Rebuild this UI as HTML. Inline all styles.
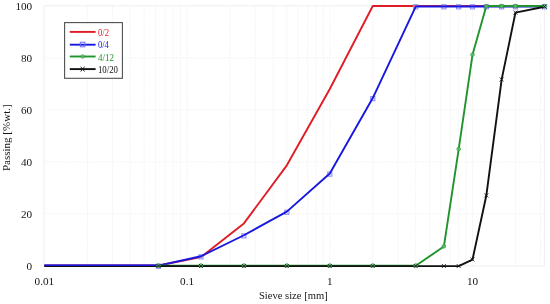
<!DOCTYPE html>
<html><head><meta charset="utf-8"><style>
html,body{margin:0;padding:0;background:#fff;}
body{width:550px;height:304px;position:relative;overflow:hidden;font-family:"Liberation Serif",serif;}
svg text{font-family:"Liberation Serif",serif;}
svg text.ax{stroke:none;}
svg text.tt{stroke:none;}
</style></head><body>
<svg width="550" height="304" viewBox="0 0 550 304" style="position:absolute;left:0;top:0"><path d="M87.36 5.80V266.00M112.49 5.80V266.00M130.31 5.80V266.00M144.14 5.80V266.00M155.44 5.80V266.00M165.00 5.80V266.00M173.27 5.80V266.00M180.57 5.80V266.00M187.10 5.80V266.00M230.06 5.80V266.00M255.19 5.80V266.00M273.01 5.80V266.00M286.84 5.80V266.00M298.14 5.80V266.00M307.70 5.80V266.00M315.97 5.80V266.00M323.27 5.80V266.00M329.80 5.80V266.00M372.76 5.80V266.00M397.89 5.80V266.00M415.71 5.80V266.00M429.54 5.80V266.00M440.84 5.80V266.00M450.40 5.80V266.00M458.67 5.80V266.00M465.97 5.80V266.00M472.50 5.80V266.00M515.46 5.80V266.00M540.59 5.80V266.00M44.10 213.72H544.40M44.10 161.84H544.40M44.10 109.96H544.40M44.10 58.08H544.40" stroke="#f4f4f4" stroke-width="1" stroke-dasharray="2 1" fill="none"/><rect x="44.1" y="5.8" width="500.30" height="260.20" fill="none" stroke="#eeeeee" stroke-width="1"/><polyline points="44.40,265.45 158.47,265.45 200.93,257.15 243.89,223.43 286.84,165.32 329.80,89.06 372.76,6.05 415.71,6.05 443.87,6.05 458.67,6.05 472.50,6.05 486.33,6.05 501.63,6.05 515.46,6.05 544.58,6.05" fill="none" stroke="#df1d25" stroke-width="1.9" stroke-linejoin="round"/><rect x="156.37" y="264.10" width="4.20" height="4.20" fill="#d4d4ff" fill-opacity="0.5" stroke="#8c8cf5" stroke-width="1"/><rect x="198.83" y="254.76" width="4.20" height="4.20" fill="#d4d4ff" fill-opacity="0.5" stroke="#8c8cf5" stroke-width="1"/><rect x="241.79" y="233.75" width="4.20" height="4.20" fill="#d4d4ff" fill-opacity="0.5" stroke="#8c8cf5" stroke-width="1"/><rect x="284.74" y="210.14" width="4.20" height="4.20" fill="#d4d4ff" fill-opacity="0.5" stroke="#8c8cf5" stroke-width="1"/><rect x="327.70" y="172.01" width="4.20" height="4.20" fill="#d4d4ff" fill-opacity="0.5" stroke="#8c8cf5" stroke-width="1"/><rect x="370.66" y="96.53" width="4.20" height="4.20" fill="#d4d4ff" fill-opacity="0.5" stroke="#8c8cf5" stroke-width="1"/><rect x="413.61" y="4.70" width="4.20" height="4.20" fill="#d4d4ff" fill-opacity="0.5" stroke="#8c8cf5" stroke-width="1"/><rect x="441.77" y="4.70" width="4.20" height="4.20" fill="#d4d4ff" fill-opacity="0.5" stroke="#8c8cf5" stroke-width="1"/><rect x="456.57" y="4.70" width="4.20" height="4.20" fill="#d4d4ff" fill-opacity="0.5" stroke="#8c8cf5" stroke-width="1"/><rect x="470.40" y="4.70" width="4.20" height="4.20" fill="#d4d4ff" fill-opacity="0.5" stroke="#8c8cf5" stroke-width="1"/><rect x="484.23" y="4.70" width="4.20" height="4.20" fill="#d4d4ff" fill-opacity="0.5" stroke="#8c8cf5" stroke-width="1"/><rect x="499.53" y="4.70" width="4.20" height="4.20" fill="#d4d4ff" fill-opacity="0.5" stroke="#8c8cf5" stroke-width="1"/><rect x="513.36" y="4.70" width="4.20" height="4.20" fill="#d4d4ff" fill-opacity="0.5" stroke="#8c8cf5" stroke-width="1"/><rect x="542.48" y="4.70" width="4.20" height="4.20" fill="#d4d4ff" fill-opacity="0.5" stroke="#8c8cf5" stroke-width="1"/><polyline points="44.40,265.60 158.47,265.60 200.93,256.26 243.89,235.25 286.84,211.64 329.80,173.51 372.76,98.03 415.71,6.55 443.87,6.55 458.67,6.55 472.50,6.55 486.33,6.55 501.63,6.55 515.46,6.55 544.58,6.55" fill="none" stroke="#1717e0" stroke-width="1.9" stroke-linejoin="round"/><polyline points="158.47,265.75 200.93,265.75 243.89,265.75 286.84,265.75 329.80,265.75 372.76,265.75 415.71,265.75 443.87,246.55 458.67,149.28 472.50,54.86 486.33,5.95 501.63,5.95 515.46,5.95 544.58,5.95" fill="none" stroke="#1f932c" stroke-width="1.9" stroke-linejoin="round"/><polyline points="44.40,266.10 158.47,266.10 200.93,266.10 243.89,266.10 286.84,266.10 329.80,266.10 372.76,266.10 415.71,266.10 443.87,266.10 458.67,266.10 472.50,259.62 486.33,195.54 501.63,79.59 515.46,12.67 544.58,6.70" fill="none" stroke="#111111" stroke-width="1.9" stroke-linejoin="round"/><path d="M44.40 265.30H158.47" stroke="#1717e0" stroke-width="1.6"/><circle cx="158.47" cy="265.50" r="1.8" fill="#7cc886" fill-opacity="0.6" stroke="#33a544" stroke-width="0.9"/><circle cx="200.93" cy="265.50" r="1.8" fill="#7cc886" fill-opacity="0.6" stroke="#33a544" stroke-width="0.9"/><circle cx="243.89" cy="265.50" r="1.8" fill="#7cc886" fill-opacity="0.6" stroke="#33a544" stroke-width="0.9"/><circle cx="286.84" cy="265.50" r="1.8" fill="#7cc886" fill-opacity="0.6" stroke="#33a544" stroke-width="0.9"/><circle cx="329.80" cy="265.50" r="1.8" fill="#7cc886" fill-opacity="0.6" stroke="#33a544" stroke-width="0.9"/><circle cx="372.76" cy="265.50" r="1.8" fill="#7cc886" fill-opacity="0.6" stroke="#33a544" stroke-width="0.9"/><circle cx="415.71" cy="265.50" r="1.8" fill="#7cc886" fill-opacity="0.6" stroke="#33a544" stroke-width="0.9"/><circle cx="443.87" cy="246.30" r="1.8" fill="#7cc886" fill-opacity="0.6" stroke="#33a544" stroke-width="0.9"/><circle cx="458.67" cy="149.03" r="1.8" fill="#7cc886" fill-opacity="0.6" stroke="#33a544" stroke-width="0.9"/><circle cx="472.50" cy="54.61" r="1.8" fill="#7cc886" fill-opacity="0.6" stroke="#33a544" stroke-width="0.9"/><circle cx="486.33" cy="6.10" r="1.8" fill="#7cc886" fill-opacity="0.6" stroke="#33a544" stroke-width="0.9"/><circle cx="501.63" cy="6.10" r="1.8" fill="#7cc886" fill-opacity="0.6" stroke="#33a544" stroke-width="0.9"/><circle cx="515.46" cy="6.10" r="1.8" fill="#7cc886" fill-opacity="0.6" stroke="#33a544" stroke-width="0.9"/><circle cx="544.58" cy="6.10" r="1.8" fill="#7cc886" fill-opacity="0.6" stroke="#33a544" stroke-width="0.9"/><path d="M156.47 264.00L160.47 268.00M156.47 268.00L160.47 264.00" stroke="#111111" stroke-width="0.8" fill="none"/><path d="M198.93 264.00L202.93 268.00M198.93 268.00L202.93 264.00" stroke="#111111" stroke-width="0.8" fill="none"/><path d="M241.89 264.00L245.89 268.00M241.89 268.00L245.89 264.00" stroke="#111111" stroke-width="0.8" fill="none"/><path d="M284.84 264.00L288.84 268.00M284.84 268.00L288.84 264.00" stroke="#111111" stroke-width="0.8" fill="none"/><path d="M327.80 264.00L331.80 268.00M327.80 268.00L331.80 264.00" stroke="#111111" stroke-width="0.8" fill="none"/><path d="M370.76 264.00L374.76 268.00M370.76 268.00L374.76 264.00" stroke="#111111" stroke-width="0.8" fill="none"/><path d="M413.71 264.00L417.71 268.00M413.71 268.00L417.71 264.00" stroke="#111111" stroke-width="0.8" fill="none"/><path d="M441.87 264.00L445.87 268.00M441.87 268.00L445.87 264.00" stroke="#111111" stroke-width="0.8" fill="none"/><path d="M456.67 264.00L460.67 268.00M456.67 268.00L460.67 264.00" stroke="#111111" stroke-width="0.8" fill="none"/><path d="M470.50 257.51L474.50 261.51M470.50 261.51L474.50 257.51" stroke="#111111" stroke-width="0.8" fill="none"/><path d="M484.33 193.44L488.33 197.44M484.33 197.44L488.33 193.44" stroke="#111111" stroke-width="0.8" fill="none"/><path d="M499.63 77.49L503.63 81.49M499.63 81.49L503.63 77.49" stroke="#111111" stroke-width="0.8" fill="none"/><path d="M513.46 10.57L517.46 14.57M513.46 14.57L517.46 10.57" stroke="#111111" stroke-width="0.8" fill="none"/><path d="M542.58 4.60L546.58 8.60M542.58 8.60L546.58 4.60" stroke="#111111" stroke-width="0.8" fill="none"/><rect x="64.6" y="22.6" width="57.8" height="55.7" fill="#fff" stroke="#505050" stroke-width="1.1"/><path d="M69.8 31.9H95.6" stroke="#df1d25" stroke-width="1.9"/><text x="97.9" y="35.8" fill="#df1d25" font-size="9.4" textLength="11.1" lengthAdjust="spacingAndGlyphs">0/2</text><path d="M69.8 44.7H95.6" stroke="#1717e0" stroke-width="1.9"/><rect x="80.30" y="42.20" width="4.6" height="4.6" fill="none" stroke="#7070f0" stroke-width="1"/><text x="97.9" y="48.0" fill="#1717e0" font-size="9.4" textLength="11.0" lengthAdjust="spacingAndGlyphs">0/4</text><path d="M69.8 56.5H95.6" stroke="#1f932c" stroke-width="1.9"/><circle cx="82.60" cy="56.50" r="1.7" fill="#9ad09f" fill-opacity="0.5" stroke="#2f9f3c" stroke-width="0.9"/><text x="97.9" y="60.7" fill="#1f932c" font-size="9.4" textLength="16.0" lengthAdjust="spacingAndGlyphs">4/12</text><path d="M69.8 69.1H95.6" stroke="#111111" stroke-width="1.9"/><path d="M80.70 66.70L84.50 71.50M80.70 71.50L84.50 66.70" stroke="#111" stroke-width="0.9" fill="none"/><text x="97.9" y="72.7" fill="#111111" font-size="9.4" textLength="20.1" lengthAdjust="spacingAndGlyphs">10/20</text><text x="44.40" y="284.8" class="ax" text-anchor="middle" font-size="11.2" fill="#151515">0.01</text><text x="187.10" y="284.8" class="ax" text-anchor="middle" font-size="11.2" fill="#151515">0.1</text><text x="329.80" y="284.8" class="ax" text-anchor="middle" font-size="11.2" fill="#151515">1</text><text x="472.50" y="284.8" class="ax" text-anchor="middle" font-size="11.2" fill="#151515">10</text><text x="32.2" y="269.50" class="ax" text-anchor="end" font-size="11.2" fill="#151515">0</text><text x="32.2" y="217.62" class="ax" text-anchor="end" font-size="11.2" fill="#151515">20</text><text x="32.2" y="165.74" class="ax" text-anchor="end" font-size="11.2" fill="#151515">40</text><text x="32.2" y="113.86" class="ax" text-anchor="end" font-size="11.2" fill="#151515">60</text><text x="32.2" y="61.98" class="ax" text-anchor="end" font-size="11.2" fill="#151515">80</text><text x="32.2" y="10.10" class="ax" text-anchor="end" font-size="11.2" fill="#151515">100</text><text x="293.3" y="299.3" class="tt" text-anchor="middle" font-size="11.4" textLength="68.8" lengthAdjust="spacingAndGlyphs" fill="#151515">Sieve size [mm]</text><text transform="translate(10.4,137.7) rotate(-90)" class="tt" text-anchor="middle" font-size="11" fill="#151515">Passing [%wt.]</text></svg>
</body></html>
